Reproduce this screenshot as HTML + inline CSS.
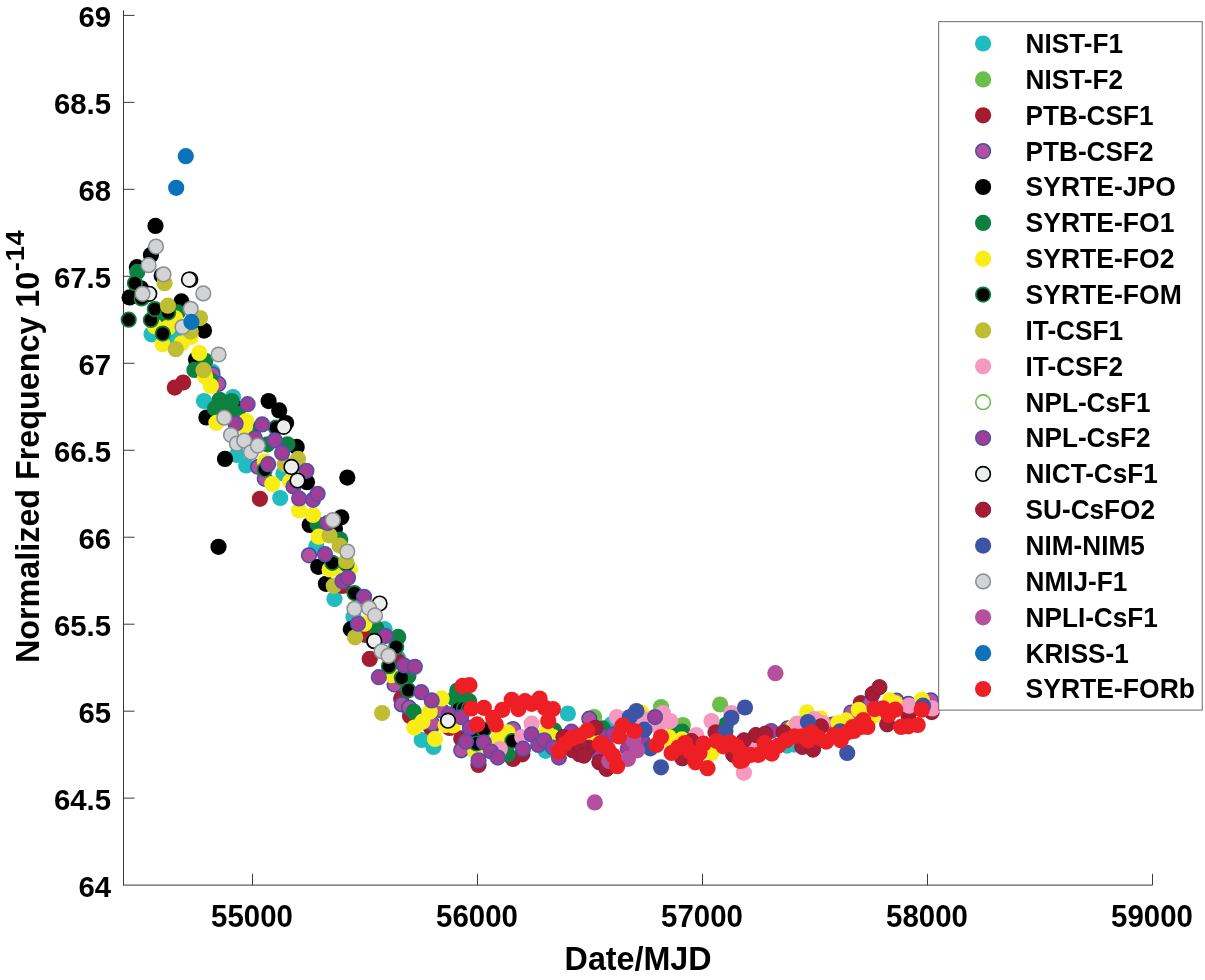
<!DOCTYPE html>
<html><head><meta charset="utf-8"><title>Normalized Frequency vs Date/MJD</title>
<style>html,body{margin:0;padding:0;background:#fff;}svg{display:block;}text{font-family:"Liberation Sans",sans-serif;font-weight:bold;fill:#000;}</style></head><body>
<svg width="1205" height="980" viewBox="0 0 1205 980">
<rect width="1205" height="980" fill="#fff"/>
<g stroke="#3a3a3a" stroke-width="1" fill="none" shape-rendering="auto">
<line x1="123.5" y1="10.4" x2="123.5" y2="885.1"/>
<line x1="123.0" y1="885.1" x2="1152.5" y2="885.1"/>
<line x1="123.5" y1="15.40" x2="134.5" y2="15.40"/>
<line x1="123.5" y1="102.37" x2="134.5" y2="102.37"/>
<line x1="123.5" y1="189.34" x2="134.5" y2="189.34"/>
<line x1="123.5" y1="276.31" x2="134.5" y2="276.31"/>
<line x1="123.5" y1="363.28" x2="134.5" y2="363.28"/>
<line x1="123.5" y1="450.25" x2="134.5" y2="450.25"/>
<line x1="123.5" y1="537.22" x2="134.5" y2="537.22"/>
<line x1="123.5" y1="624.19" x2="134.5" y2="624.19"/>
<line x1="123.5" y1="711.16" x2="134.5" y2="711.16"/>
<line x1="123.5" y1="798.13" x2="134.5" y2="798.13"/>
<line x1="252.5" y1="885.1" x2="252.5" y2="873.9"/>
<line x1="477.5" y1="885.1" x2="477.5" y2="873.9"/>
<line x1="702.5" y1="885.1" x2="702.5" y2="873.9"/>
<line x1="927.5" y1="885.1" x2="927.5" y2="873.9"/>
<line x1="1152.5" y1="885.1" x2="1152.5" y2="873.9"/>
</g>
<text transform="translate(111.0,27.1) scale(0.965,1)" font-size="30.4" text-anchor="end">69</text>
<text transform="translate(111.0,114.1) scale(0.965,1)" font-size="30.4" text-anchor="end">68.5</text>
<text transform="translate(111.0,201.0) scale(0.965,1)" font-size="30.4" text-anchor="end">68</text>
<text transform="translate(111.0,288.0) scale(0.965,1)" font-size="30.4" text-anchor="end">67.5</text>
<text transform="translate(111.0,375.0) scale(0.965,1)" font-size="30.4" text-anchor="end">67</text>
<text transform="translate(111.0,461.9) scale(0.965,1)" font-size="30.4" text-anchor="end">66.5</text>
<text transform="translate(111.0,548.9) scale(0.965,1)" font-size="30.4" text-anchor="end">66</text>
<text transform="translate(111.0,635.9) scale(0.965,1)" font-size="30.4" text-anchor="end">65.5</text>
<text transform="translate(111.0,722.9) scale(0.965,1)" font-size="30.4" text-anchor="end">65</text>
<text transform="translate(111.0,809.8) scale(0.965,1)" font-size="30.4" text-anchor="end">64.5</text>
<text transform="translate(111.0,896.8) scale(0.965,1)" font-size="30.4" text-anchor="end">64</text>
<text transform="translate(252,926.9) scale(0.955,1)" font-size="30.8" text-anchor="middle">55000</text>
<text transform="translate(477,926.9) scale(0.955,1)" font-size="30.8" text-anchor="middle">56000</text>
<text transform="translate(702,926.9) scale(0.955,1)" font-size="30.8" text-anchor="middle">57000</text>
<text transform="translate(927,926.9) scale(0.955,1)" font-size="30.8" text-anchor="middle">58000</text>
<text transform="translate(1152,926.9) scale(0.955,1)" font-size="30.8" text-anchor="middle">59000</text>
<text transform="translate(638.1,969.8) scale(0.978,1)" font-size="33" text-anchor="middle">Date/MJD</text>
<text transform="translate(39.2,663) rotate(-90) scale(0.979,1)" font-size="33">Normalized Frequency 10</text>
<text transform="translate(23.8,271.2) rotate(-90) scale(1.04,1)" font-size="26.3" letter-spacing="0.7">-14</text>
<g>
<circle cx="151.5" cy="334.3" r="8.1" fill="#20bcc1"/>
<circle cx="174.8" cy="338.3" r="8.1" fill="#20bcc1"/>
<circle cx="212.4" cy="371.9" r="8.1" fill="#20bcc1"/>
<circle cx="204.0" cy="401.1" r="8.1" fill="#20bcc1"/>
<circle cx="233.0" cy="397.1" r="8.1" fill="#20bcc1"/>
<circle cx="236.9" cy="454.9" r="8.1" fill="#20bcc1"/>
<circle cx="246.2" cy="465.5" r="8.1" fill="#20bcc1"/>
<circle cx="283.4" cy="473.5" r="8.1" fill="#20bcc1"/>
<circle cx="280.2" cy="498.0" r="8.1" fill="#20bcc1"/>
<circle cx="316.3" cy="546.2" r="8.1" fill="#20bcc1"/>
<circle cx="334.5" cy="599.1" r="8.1" fill="#20bcc1"/>
<circle cx="353.5" cy="617.0" r="8.1" fill="#20bcc1"/>
<circle cx="384.6" cy="629.2" r="8.1" fill="#20bcc1"/>
<circle cx="398.2" cy="658.2" r="8.1" fill="#20bcc1"/>
<circle cx="421.7" cy="740.0" r="8.1" fill="#20bcc1"/>
<circle cx="433.4" cy="746.9" r="8.1" fill="#20bcc1"/>
<circle cx="567.9" cy="713.5" r="8.1" fill="#20bcc1"/>
<circle cx="545.6" cy="750.8" r="8.1" fill="#20bcc1"/>
<circle cx="611.2" cy="724.4" r="8.1" fill="#20bcc1"/>
<circle cx="787.1" cy="745.6" r="8.1" fill="#20bcc1"/>
<circle cx="794.4" cy="744.6" r="8.1" fill="#20bcc1"/>
<circle cx="594.1" cy="717.1" r="8.1" fill="#6abf4b"/>
<circle cx="661.0" cy="707.1" r="8.1" fill="#6abf4b"/>
<circle cx="682.9" cy="725.1" r="8.1" fill="#6abf4b"/>
<circle cx="720.1" cy="704.5" r="8.1" fill="#6abf4b"/>
<circle cx="183.2" cy="382.5" r="8.1" fill="#a51c30"/>
<circle cx="174.8" cy="387.6" r="8.1" fill="#a51c30"/>
<circle cx="259.9" cy="498.8" r="8.1" fill="#a51c30"/>
<circle cx="342.5" cy="585.9" r="8.1" fill="#a51c30"/>
<circle cx="365.7" cy="635.0" r="8.1" fill="#a51c30"/>
<circle cx="369.7" cy="658.9" r="8.1" fill="#a51c30"/>
<circle cx="397.6" cy="660.8" r="8.1" fill="#a51c30"/>
<circle cx="401.1" cy="698.4" r="8.1" fill="#a51c30"/>
<circle cx="410.0" cy="716.0" r="8.1" fill="#a51c30"/>
<circle cx="431.0" cy="727.6" r="8.1" fill="#a51c30"/>
<circle cx="449.6" cy="727.9" r="8.1" fill="#a51c30"/>
<circle cx="461.2" cy="738.4" r="8.1" fill="#a51c30"/>
<circle cx="478.5" cy="764.9" r="8.1" fill="#a51c30"/>
<circle cx="513.0" cy="758.9" r="8.1" fill="#a51c30"/>
<circle cx="522.3" cy="754.3" r="8.1" fill="#a51c30"/>
<circle cx="860.8" cy="703.1" r="8.1" fill="#a51c30"/>
<circle cx="908.4" cy="715.0" r="8.1" fill="#a51c30"/>
<circle cx="931.7" cy="712.1" r="8.1" fill="#a51c30"/>
<circle cx="212.5" cy="374.4" r="7.35" fill="#b5509f" stroke="#3f4fa6" stroke-width="1.5"/>
<circle cx="218.4" cy="383.9" r="7.35" fill="#b5509f" stroke="#3f4fa6" stroke-width="1.5"/>
<circle cx="258.2" cy="466.9" r="7.35" fill="#b5509f" stroke="#3f4fa6" stroke-width="1.5"/>
<circle cx="264.8" cy="478.8" r="7.35" fill="#b5509f" stroke="#3f4fa6" stroke-width="1.5"/>
<circle cx="309.0" cy="555.3" r="7.35" fill="#b5509f" stroke="#3f4fa6" stroke-width="1.5"/>
<circle cx="394.5" cy="684.5" r="7.35" fill="#b5509f" stroke="#3f4fa6" stroke-width="1.5"/>
<circle cx="401.8" cy="704.4" r="7.35" fill="#b5509f" stroke="#3f4fa6" stroke-width="1.5"/>
<circle cx="409.1" cy="707.7" r="7.35" fill="#b5509f" stroke="#3f4fa6" stroke-width="1.5"/>
<circle cx="441.6" cy="710.4" r="7.35" fill="#b5509f" stroke="#3f4fa6" stroke-width="1.5"/>
<circle cx="432.3" cy="723.7" r="7.35" fill="#b5509f" stroke="#3f4fa6" stroke-width="1.5"/>
<circle cx="461.2" cy="750.3" r="7.35" fill="#b5509f" stroke="#3f4fa6" stroke-width="1.5"/>
<circle cx="513.0" cy="729.1" r="7.35" fill="#b5509f" stroke="#3f4fa6" stroke-width="1.5"/>
<circle cx="589.3" cy="718.7" r="7.35" fill="#b5509f" stroke="#3f4fa6" stroke-width="1.5"/>
<circle cx="787.7" cy="728.4" r="7.35" fill="#b5509f" stroke="#3f4fa6" stroke-width="1.5"/>
<circle cx="832.2" cy="724.5" r="7.35" fill="#b5509f" stroke="#3f4fa6" stroke-width="1.5"/>
<circle cx="851.2" cy="712.5" r="7.35" fill="#b5509f" stroke="#3f4fa6" stroke-width="1.5"/>
<circle cx="870.7" cy="702.1" r="7.35" fill="#b5509f" stroke="#3f4fa6" stroke-width="1.5"/>
<circle cx="896.5" cy="700.7" r="7.35" fill="#b5509f" stroke="#3f4fa6" stroke-width="1.5"/>
<circle cx="908.4" cy="703.8" r="7.35" fill="#b5509f" stroke="#3f4fa6" stroke-width="1.5"/>
<circle cx="931.0" cy="700.4" r="7.35" fill="#b5509f" stroke="#3f4fa6" stroke-width="1.5"/>
<circle cx="155.5" cy="225.9" r="8.1" fill="#000000"/>
<circle cx="150.9" cy="254.9" r="8.1" fill="#000000"/>
<circle cx="136.9" cy="267.2" r="8.1" fill="#000000"/>
<circle cx="161.7" cy="275.6" r="8.1" fill="#000000"/>
<circle cx="140.9" cy="288.3" r="8.1" fill="#000000"/>
<circle cx="129.6" cy="297.4" r="8.1" fill="#000000"/>
<circle cx="181.4" cy="301.4" r="8.1" fill="#000000"/>
<circle cx="204.0" cy="330.6" r="8.1" fill="#000000"/>
<circle cx="196.0" cy="359.5" r="8.1" fill="#000000"/>
<circle cx="268.6" cy="401.1" r="8.1" fill="#000000"/>
<circle cx="279.2" cy="410.4" r="8.1" fill="#000000"/>
<circle cx="286.1" cy="423.0" r="8.1" fill="#000000"/>
<circle cx="206.4" cy="417.5" r="8.1" fill="#000000"/>
<circle cx="252.9" cy="430.3" r="8.1" fill="#000000"/>
<circle cx="236.9" cy="408.7" r="8.1" fill="#000000"/>
<circle cx="296.7" cy="446.9" r="8.1" fill="#000000"/>
<circle cx="225.0" cy="458.9" r="8.1" fill="#000000"/>
<circle cx="307.0" cy="482.2" r="8.1" fill="#000000"/>
<circle cx="347.3" cy="477.6" r="8.1" fill="#000000"/>
<circle cx="341.3" cy="517.3" r="8.1" fill="#000000"/>
<circle cx="309.7" cy="525.0" r="8.1" fill="#000000"/>
<circle cx="334.9" cy="529.0" r="8.1" fill="#000000"/>
<circle cx="318.3" cy="566.8" r="8.1" fill="#000000"/>
<circle cx="325.9" cy="583.8" r="8.1" fill="#000000"/>
<circle cx="350.8" cy="629.2" r="8.1" fill="#000000"/>
<circle cx="474.8" cy="737.0" r="8.1" fill="#000000"/>
<circle cx="218.5" cy="546.8" r="8.1" fill="#000000"/>
<circle cx="137.3" cy="271.9" r="8.1" fill="#0c8140"/>
<circle cx="177.4" cy="312.4" r="8.1" fill="#0c8140"/>
<circle cx="164.1" cy="319.7" r="8.1" fill="#0c8140"/>
<circle cx="205.3" cy="360.8" r="8.1" fill="#0c8140"/>
<circle cx="194.4" cy="369.9" r="8.1" fill="#0c8140"/>
<circle cx="210.4" cy="380.1" r="8.1" fill="#0c8140"/>
<circle cx="219.7" cy="399.8" r="8.1" fill="#0c8140"/>
<circle cx="231.6" cy="401.1" r="8.1" fill="#0c8140"/>
<circle cx="215.0" cy="408.4" r="8.1" fill="#0c8140"/>
<circle cx="225.0" cy="405.8" r="8.1" fill="#0c8140"/>
<circle cx="237.6" cy="413.7" r="8.1" fill="#0c8140"/>
<circle cx="247.6" cy="429.7" r="8.1" fill="#0c8140"/>
<circle cx="267.5" cy="444.3" r="8.1" fill="#0c8140"/>
<circle cx="287.4" cy="444.3" r="8.1" fill="#0c8140"/>
<circle cx="317.6" cy="524.3" r="8.1" fill="#0c8140"/>
<circle cx="340.2" cy="539.6" r="8.1" fill="#0c8140"/>
<circle cx="376.3" cy="628.3" r="8.1" fill="#0c8140"/>
<circle cx="398.2" cy="636.9" r="8.1" fill="#0c8140"/>
<circle cx="408.4" cy="676.1" r="8.1" fill="#0c8140"/>
<circle cx="413.7" cy="711.7" r="8.1" fill="#0c8140"/>
<circle cx="457.3" cy="690.5" r="8.1" fill="#0c8140"/>
<circle cx="454.6" cy="698.5" r="8.1" fill="#0c8140"/>
<circle cx="463.9" cy="695.9" r="8.1" fill="#0c8140"/>
<circle cx="469.2" cy="701.2" r="8.1" fill="#0c8140"/>
<circle cx="507.7" cy="754.3" r="8.1" fill="#0c8140"/>
<circle cx="554.2" cy="730.4" r="8.1" fill="#0c8140"/>
<circle cx="602.8" cy="728.4" r="8.1" fill="#0c8140"/>
<circle cx="682.3" cy="731.7" r="8.1" fill="#0c8140"/>
<circle cx="674.3" cy="732.4" r="8.1" fill="#0c8140"/>
<circle cx="725.8" cy="724.8" r="8.1" fill="#0c8140"/>
<circle cx="175.4" cy="318.4" r="8.1" fill="#f8ed17"/>
<circle cx="154.8" cy="326.3" r="8.1" fill="#f8ed17"/>
<circle cx="168.1" cy="327.6" r="8.1" fill="#f8ed17"/>
<circle cx="190.7" cy="336.9" r="8.1" fill="#f8ed17"/>
<circle cx="181.4" cy="343.6" r="8.1" fill="#f8ed17"/>
<circle cx="162.5" cy="344.2" r="8.1" fill="#f8ed17"/>
<circle cx="199.3" cy="352.9" r="8.1" fill="#f8ed17"/>
<circle cx="205.1" cy="376.6" r="8.1" fill="#f8ed17"/>
<circle cx="210.8" cy="385.9" r="8.1" fill="#f8ed17"/>
<circle cx="216.4" cy="422.8" r="8.1" fill="#f8ed17"/>
<circle cx="246.2" cy="421.0" r="8.1" fill="#f8ed17"/>
<circle cx="244.9" cy="427.0" r="8.1" fill="#f8ed17"/>
<circle cx="264.8" cy="461.6" r="8.1" fill="#f8ed17"/>
<circle cx="272.3" cy="483.9" r="8.1" fill="#f8ed17"/>
<circle cx="290.0" cy="481.4" r="8.1" fill="#f8ed17"/>
<circle cx="299.1" cy="510.4" r="8.1" fill="#f8ed17"/>
<circle cx="313.0" cy="515.0" r="8.1" fill="#f8ed17"/>
<circle cx="318.7" cy="536.7" r="8.1" fill="#f8ed17"/>
<circle cx="329.6" cy="569.5" r="8.1" fill="#f8ed17"/>
<circle cx="349.8" cy="569.2" r="8.1" fill="#f8ed17"/>
<circle cx="339.9" cy="570.5" r="8.1" fill="#f8ed17"/>
<circle cx="364.4" cy="623.7" r="8.1" fill="#f8ed17"/>
<circle cx="391.2" cy="675.2" r="8.1" fill="#f8ed17"/>
<circle cx="441.6" cy="698.4" r="8.1" fill="#f8ed17"/>
<circle cx="429.7" cy="711.7" r="8.1" fill="#f8ed17"/>
<circle cx="422.4" cy="721.7" r="8.1" fill="#f8ed17"/>
<circle cx="414.4" cy="727.6" r="8.1" fill="#f8ed17"/>
<circle cx="445.6" cy="725.0" r="8.1" fill="#f8ed17"/>
<circle cx="452.9" cy="725.5" r="8.1" fill="#f8ed17"/>
<circle cx="435.0" cy="738.9" r="8.1" fill="#f8ed17"/>
<circle cx="498.4" cy="738.4" r="8.1" fill="#f8ed17"/>
<circle cx="507.7" cy="732.4" r="8.1" fill="#f8ed17"/>
<circle cx="475.2" cy="751.6" r="8.1" fill="#f8ed17"/>
<circle cx="546.2" cy="731.7" r="8.1" fill="#f8ed17"/>
<circle cx="552.9" cy="737.0" r="8.1" fill="#f8ed17"/>
<circle cx="595.4" cy="739.7" r="8.1" fill="#f8ed17"/>
<circle cx="641.4" cy="712.5" r="8.1" fill="#f8ed17"/>
<circle cx="668.7" cy="737.0" r="8.1" fill="#f8ed17"/>
<circle cx="682.0" cy="739.4" r="8.1" fill="#f8ed17"/>
<circle cx="671.6" cy="741.0" r="8.1" fill="#f8ed17"/>
<circle cx="711.5" cy="753.0" r="8.1" fill="#f8ed17"/>
<circle cx="792.8" cy="727.7" r="8.1" fill="#f8ed17"/>
<circle cx="807.0" cy="712.4" r="8.1" fill="#f8ed17"/>
<circle cx="820.9" cy="718.4" r="8.1" fill="#f8ed17"/>
<circle cx="838.2" cy="723.0" r="8.1" fill="#f8ed17"/>
<circle cx="846.2" cy="720.4" r="8.1" fill="#f8ed17"/>
<circle cx="858.8" cy="709.8" r="8.1" fill="#f8ed17"/>
<circle cx="872.7" cy="716.4" r="8.1" fill="#f8ed17"/>
<circle cx="889.8" cy="700.4" r="8.1" fill="#f8ed17"/>
<circle cx="895.2" cy="703.0" r="8.1" fill="#f8ed17"/>
<circle cx="921.7" cy="699.7" r="8.1" fill="#f8ed17"/>
<circle cx="134.9" cy="283.2" r="7.25" fill="#000000" stroke="#0c8140" stroke-width="1.7"/>
<circle cx="141.6" cy="298.4" r="7.25" fill="#000000" stroke="#0c8140" stroke-width="1.7"/>
<circle cx="150.9" cy="319.9" r="7.25" fill="#000000" stroke="#0c8140" stroke-width="1.7"/>
<circle cx="154.8" cy="309.1" r="7.25" fill="#000000" stroke="#0c8140" stroke-width="1.7"/>
<circle cx="168.1" cy="312.4" r="7.25" fill="#000000" stroke="#0c8140" stroke-width="1.7"/>
<circle cx="128.7" cy="319.7" r="7.25" fill="#000000" stroke="#0c8140" stroke-width="1.7"/>
<circle cx="162.8" cy="333.6" r="7.25" fill="#000000" stroke="#0c8140" stroke-width="1.7"/>
<circle cx="275.9" cy="427.7" r="7.25" fill="#000000" stroke="#0c8140" stroke-width="1.7"/>
<circle cx="264.8" cy="469.5" r="7.25" fill="#000000" stroke="#0c8140" stroke-width="1.7"/>
<circle cx="332.3" cy="562.8" r="7.25" fill="#000000" stroke="#0c8140" stroke-width="1.7"/>
<circle cx="346.4" cy="563.9" r="7.25" fill="#000000" stroke="#0c8140" stroke-width="1.7"/>
<circle cx="354.4" cy="593.1" r="7.25" fill="#000000" stroke="#0c8140" stroke-width="1.7"/>
<circle cx="373.9" cy="641.2" r="7.25" fill="#000000" stroke="#0c8140" stroke-width="1.7"/>
<circle cx="396.2" cy="646.9" r="7.25" fill="#000000" stroke="#0c8140" stroke-width="1.7"/>
<circle cx="388.9" cy="666.2" r="7.25" fill="#000000" stroke="#0c8140" stroke-width="1.7"/>
<circle cx="401.8" cy="677.8" r="7.25" fill="#000000" stroke="#0c8140" stroke-width="1.7"/>
<circle cx="408.4" cy="690.2" r="7.25" fill="#000000" stroke="#0c8140" stroke-width="1.7"/>
<circle cx="458.7" cy="709.0" r="7.25" fill="#000000" stroke="#0c8140" stroke-width="1.7"/>
<circle cx="463.9" cy="708.6" r="7.25" fill="#000000" stroke="#0c8140" stroke-width="1.7"/>
<circle cx="469.0" cy="708.2" r="7.25" fill="#000000" stroke="#0c8140" stroke-width="1.7"/>
<circle cx="483.8" cy="729.7" r="7.25" fill="#000000" stroke="#0c8140" stroke-width="1.7"/>
<circle cx="476.5" cy="743.5" r="7.25" fill="#000000" stroke="#0c8140" stroke-width="1.7"/>
<circle cx="512.4" cy="741.0" r="7.25" fill="#000000" stroke="#0c8140" stroke-width="1.7"/>
<circle cx="164.5" cy="283.2" r="8.1" fill="#bfbd31"/>
<circle cx="167.9" cy="305.7" r="8.1" fill="#bfbd31"/>
<circle cx="200.0" cy="318.1" r="8.1" fill="#bfbd31"/>
<circle cx="190.7" cy="331.6" r="8.1" fill="#bfbd31"/>
<circle cx="175.8" cy="349.2" r="8.1" fill="#bfbd31"/>
<circle cx="203.5" cy="370.2" r="8.1" fill="#bfbd31"/>
<circle cx="284.8" cy="464.2" r="8.1" fill="#bfbd31"/>
<circle cx="298.0" cy="458.9" r="8.1" fill="#bfbd31"/>
<circle cx="329.6" cy="535.4" r="8.1" fill="#bfbd31"/>
<circle cx="339.6" cy="545.6" r="8.1" fill="#bfbd31"/>
<circle cx="346.2" cy="561.5" r="8.1" fill="#bfbd31"/>
<circle cx="333.8" cy="585.8" r="8.1" fill="#bfbd31"/>
<circle cx="355.1" cy="637.3" r="8.1" fill="#bfbd31"/>
<circle cx="382.1" cy="713.0" r="8.1" fill="#bfbd31"/>
<circle cx="499.8" cy="749.0" r="8.1" fill="#f599c1"/>
<circle cx="531.6" cy="723.7" r="8.1" fill="#f599c1"/>
<circle cx="522.3" cy="737.0" r="8.1" fill="#f599c1"/>
<circle cx="616.9" cy="717.1" r="8.1" fill="#f599c1"/>
<circle cx="642.4" cy="718.4" r="8.1" fill="#f599c1"/>
<circle cx="663.0" cy="713.1" r="8.1" fill="#f599c1"/>
<circle cx="670.3" cy="721.1" r="8.1" fill="#f599c1"/>
<circle cx="658.4" cy="726.4" r="8.1" fill="#f599c1"/>
<circle cx="696.2" cy="735.0" r="8.1" fill="#f599c1"/>
<circle cx="711.5" cy="721.1" r="8.1" fill="#f599c1"/>
<circle cx="731.4" cy="713.1" r="8.1" fill="#f599c1"/>
<circle cx="753.2" cy="745.0" r="8.1" fill="#f599c1"/>
<circle cx="797.0" cy="723.7" r="8.1" fill="#f599c1"/>
<circle cx="814.3" cy="719.1" r="8.1" fill="#f599c1"/>
<circle cx="822.3" cy="723.0" r="8.1" fill="#f599c1"/>
<circle cx="743.9" cy="772.8" r="8.1" fill="#f599c1"/>
<circle cx="909.1" cy="705.7" r="8.1" fill="#f599c1"/>
<circle cx="932.3" cy="708.4" r="8.1" fill="#f599c1"/>
<circle cx="247.6" cy="404.2" r="7.30" fill="#a13d97" stroke="#5551a8" stroke-width="1.6"/>
<circle cx="235.6" cy="423.7" r="7.30" fill="#a13d97" stroke="#5551a8" stroke-width="1.6"/>
<circle cx="262.2" cy="424.4" r="7.30" fill="#a13d97" stroke="#5551a8" stroke-width="1.6"/>
<circle cx="254.9" cy="438.3" r="7.30" fill="#a13d97" stroke="#5551a8" stroke-width="1.6"/>
<circle cx="274.8" cy="440.3" r="7.30" fill="#a13d97" stroke="#5551a8" stroke-width="1.6"/>
<circle cx="282.1" cy="452.9" r="7.30" fill="#a13d97" stroke="#5551a8" stroke-width="1.6"/>
<circle cx="268.2" cy="464.2" r="7.30" fill="#a13d97" stroke="#5551a8" stroke-width="1.6"/>
<circle cx="306.4" cy="470.8" r="7.30" fill="#a13d97" stroke="#5551a8" stroke-width="1.6"/>
<circle cx="293.5" cy="486.5" r="7.30" fill="#a13d97" stroke="#5551a8" stroke-width="1.6"/>
<circle cx="299.1" cy="498.4" r="7.30" fill="#a13d97" stroke="#5551a8" stroke-width="1.6"/>
<circle cx="313.0" cy="499.8" r="7.30" fill="#a13d97" stroke="#5551a8" stroke-width="1.6"/>
<circle cx="317.6" cy="493.8" r="7.30" fill="#a13d97" stroke="#5551a8" stroke-width="1.6"/>
<circle cx="327.6" cy="523.0" r="7.30" fill="#a13d97" stroke="#5551a8" stroke-width="1.6"/>
<circle cx="325.0" cy="554.2" r="7.30" fill="#a13d97" stroke="#5551a8" stroke-width="1.6"/>
<circle cx="342.5" cy="581.2" r="7.30" fill="#a13d97" stroke="#5551a8" stroke-width="1.6"/>
<circle cx="348.0" cy="577.8" r="7.30" fill="#a13d97" stroke="#5551a8" stroke-width="1.6"/>
<circle cx="364.1" cy="596.8" r="7.30" fill="#a13d97" stroke="#5551a8" stroke-width="1.6"/>
<circle cx="358.0" cy="623.7" r="7.30" fill="#a13d97" stroke="#5551a8" stroke-width="1.6"/>
<circle cx="385.4" cy="635.9" r="7.30" fill="#a13d97" stroke="#5551a8" stroke-width="1.6"/>
<circle cx="404.2" cy="665.5" r="7.30" fill="#a13d97" stroke="#5551a8" stroke-width="1.6"/>
<circle cx="414.8" cy="666.8" r="7.30" fill="#a13d97" stroke="#5551a8" stroke-width="1.6"/>
<circle cx="378.8" cy="677.2" r="7.30" fill="#a13d97" stroke="#5551a8" stroke-width="1.6"/>
<circle cx="421.3" cy="692.2" r="7.30" fill="#a13d97" stroke="#5551a8" stroke-width="1.6"/>
<circle cx="431.7" cy="700.4" r="7.30" fill="#a13d97" stroke="#5551a8" stroke-width="1.6"/>
<circle cx="448.9" cy="714.4" r="7.30" fill="#a13d97" stroke="#5551a8" stroke-width="1.6"/>
<circle cx="461.2" cy="717.1" r="7.30" fill="#a13d97" stroke="#5551a8" stroke-width="1.6"/>
<circle cx="469.9" cy="727.7" r="7.30" fill="#a13d97" stroke="#5551a8" stroke-width="1.6"/>
<circle cx="465.9" cy="741.7" r="7.30" fill="#a13d97" stroke="#5551a8" stroke-width="1.6"/>
<circle cx="483.8" cy="742.3" r="7.30" fill="#a13d97" stroke="#5551a8" stroke-width="1.6"/>
<circle cx="491.1" cy="751.6" r="7.30" fill="#a13d97" stroke="#5551a8" stroke-width="1.6"/>
<circle cx="497.8" cy="757.6" r="7.30" fill="#a13d97" stroke="#5551a8" stroke-width="1.6"/>
<circle cx="478.5" cy="760.3" r="7.30" fill="#a13d97" stroke="#5551a8" stroke-width="1.6"/>
<circle cx="531.6" cy="734.4" r="7.30" fill="#a13d97" stroke="#5551a8" stroke-width="1.6"/>
<circle cx="523.0" cy="748.7" r="7.30" fill="#a13d97" stroke="#5551a8" stroke-width="1.6"/>
<circle cx="538.3" cy="745.0" r="7.30" fill="#a13d97" stroke="#5551a8" stroke-width="1.6"/>
<circle cx="544.2" cy="740.3" r="7.30" fill="#a13d97" stroke="#5551a8" stroke-width="1.6"/>
<circle cx="552.9" cy="747.6" r="7.30" fill="#a13d97" stroke="#5551a8" stroke-width="1.6"/>
<circle cx="558.9" cy="757.6" r="7.30" fill="#a13d97" stroke="#5551a8" stroke-width="1.6"/>
<circle cx="571.5" cy="731.7" r="7.30" fill="#a13d97" stroke="#5551a8" stroke-width="1.6"/>
<circle cx="599.4" cy="753.0" r="7.30" fill="#a13d97" stroke="#5551a8" stroke-width="1.6"/>
<circle cx="655.0" cy="717.1" r="7.30" fill="#a13d97" stroke="#5551a8" stroke-width="1.6"/>
<circle cx="606.6" cy="737.0" r="7.30" fill="#a13d97" stroke="#5551a8" stroke-width="1.6"/>
<circle cx="613.2" cy="734.4" r="7.30" fill="#a13d97" stroke="#5551a8" stroke-width="1.6"/>
<circle cx="642.4" cy="741.0" r="7.30" fill="#a13d97" stroke="#5551a8" stroke-width="1.6"/>
<circle cx="627.8" cy="749.0" r="7.30" fill="#a13d97" stroke="#5551a8" stroke-width="1.6"/>
<circle cx="599.9" cy="755.6" r="7.30" fill="#a13d97" stroke="#5551a8" stroke-width="1.6"/>
<circle cx="771.1" cy="731.0" r="7.30" fill="#a13d97" stroke="#5551a8" stroke-width="1.6"/>
<circle cx="190.3" cy="279.6" r="7.30" fill="#eceeed" stroke="#000000" stroke-width="1.6"/>
<circle cx="189.0" cy="279.6" r="7.30" fill="#eceeed" stroke="#000000" stroke-width="1.6"/>
<circle cx="149.3" cy="293.8" r="7.30" fill="#eceeed" stroke="#000000" stroke-width="1.6"/>
<circle cx="283.7" cy="426.8" r="7.30" fill="#eceeed" stroke="#000000" stroke-width="1.6"/>
<circle cx="291.4" cy="466.9" r="7.30" fill="#eceeed" stroke="#000000" stroke-width="1.6"/>
<circle cx="297.5" cy="480.5" r="7.30" fill="#eceeed" stroke="#000000" stroke-width="1.6"/>
<circle cx="379.6" cy="603.5" r="7.30" fill="#eceeed" stroke="#000000" stroke-width="1.6"/>
<circle cx="374.3" cy="640.9" r="7.30" fill="#eceeed" stroke="#000000" stroke-width="1.6"/>
<circle cx="448.0" cy="720.7" r="7.30" fill="#eceeed" stroke="#000000" stroke-width="1.6"/>
<circle cx="563.5" cy="737.0" r="7.60" fill="#a51c35" stroke="#8a1b3c" stroke-width="1.0"/>
<circle cx="572.8" cy="750.3" r="7.60" fill="#a51c35" stroke="#8a1b3c" stroke-width="1.0"/>
<circle cx="579.4" cy="754.3" r="7.60" fill="#a51c35" stroke="#8a1b3c" stroke-width="1.0"/>
<circle cx="588.7" cy="747.6" r="7.60" fill="#a51c35" stroke="#8a1b3c" stroke-width="1.0"/>
<circle cx="580.8" cy="745.0" r="7.60" fill="#a51c35" stroke="#8a1b3c" stroke-width="1.0"/>
<circle cx="595.4" cy="727.7" r="7.60" fill="#a51c35" stroke="#8a1b3c" stroke-width="1.0"/>
<circle cx="584.0" cy="755.6" r="7.60" fill="#a51c35" stroke="#8a1b3c" stroke-width="1.0"/>
<circle cx="599.4" cy="762.3" r="7.60" fill="#a51c35" stroke="#8a1b3c" stroke-width="1.0"/>
<circle cx="599.9" cy="762.3" r="7.60" fill="#a51c35" stroke="#8a1b3c" stroke-width="1.0"/>
<circle cx="606.6" cy="768.9" r="7.60" fill="#a51c35" stroke="#8a1b3c" stroke-width="1.0"/>
<circle cx="691.6" cy="741.0" r="7.60" fill="#a51c35" stroke="#8a1b3c" stroke-width="1.0"/>
<circle cx="682.3" cy="758.3" r="7.60" fill="#a51c35" stroke="#8a1b3c" stroke-width="1.0"/>
<circle cx="715.5" cy="732.4" r="7.60" fill="#a51c35" stroke="#8a1b3c" stroke-width="1.0"/>
<circle cx="734.1" cy="753.0" r="7.60" fill="#a51c35" stroke="#8a1b3c" stroke-width="1.0"/>
<circle cx="743.9" cy="740.3" r="7.60" fill="#a51c35" stroke="#8a1b3c" stroke-width="1.0"/>
<circle cx="755.9" cy="735.0" r="7.60" fill="#a51c35" stroke="#8a1b3c" stroke-width="1.0"/>
<circle cx="765.2" cy="733.7" r="7.60" fill="#a51c35" stroke="#8a1b3c" stroke-width="1.0"/>
<circle cx="733.3" cy="754.9" r="7.60" fill="#a51c35" stroke="#8a1b3c" stroke-width="1.0"/>
<circle cx="783.7" cy="732.3" r="7.60" fill="#a51c35" stroke="#8a1b3c" stroke-width="1.0"/>
<circle cx="820.9" cy="726.4" r="7.60" fill="#a51c35" stroke="#8a1b3c" stroke-width="1.0"/>
<circle cx="802.3" cy="746.9" r="7.60" fill="#a51c35" stroke="#8a1b3c" stroke-width="1.0"/>
<circle cx="813.0" cy="749.6" r="7.60" fill="#a51c35" stroke="#8a1b3c" stroke-width="1.0"/>
<circle cx="872.7" cy="693.8" r="7.60" fill="#a51c35" stroke="#8a1b3c" stroke-width="1.0"/>
<circle cx="879.4" cy="687.2" r="7.60" fill="#a51c35" stroke="#8a1b3c" stroke-width="1.0"/>
<circle cx="887.2" cy="724.3" r="7.60" fill="#a51c35" stroke="#8a1b3c" stroke-width="1.0"/>
<circle cx="629.8" cy="717.1" r="8.1" fill="#3b54a5"/>
<circle cx="636.4" cy="711.1" r="8.1" fill="#3b54a5"/>
<circle cx="644.4" cy="729.7" r="8.1" fill="#3b54a5"/>
<circle cx="650.4" cy="748.3" r="8.1" fill="#3b54a5"/>
<circle cx="661.0" cy="767.3" r="8.1" fill="#3b54a5"/>
<circle cx="731.4" cy="717.8" r="8.1" fill="#3b54a5"/>
<circle cx="725.4" cy="731.7" r="8.1" fill="#3b54a5"/>
<circle cx="745.0" cy="707.5" r="8.1" fill="#3b54a5"/>
<circle cx="807.9" cy="722.1" r="8.1" fill="#3b54a5"/>
<circle cx="847.2" cy="752.9" r="8.1" fill="#3b54a5"/>
<circle cx="840.2" cy="731.3" r="8.1" fill="#3b54a5"/>
<circle cx="923.0" cy="705.7" r="8.1" fill="#3b54a5"/>
<circle cx="156.0" cy="246.6" r="7.35" fill="#d1d3d4" stroke="#8b8d90" stroke-width="1.5"/>
<circle cx="148.6" cy="265.2" r="7.35" fill="#d1d3d4" stroke="#8b8d90" stroke-width="1.5"/>
<circle cx="163.5" cy="274.3" r="7.35" fill="#d1d3d4" stroke="#8b8d90" stroke-width="1.5"/>
<circle cx="203.3" cy="293.4" r="7.35" fill="#d1d3d4" stroke="#8b8d90" stroke-width="1.5"/>
<circle cx="142.5" cy="293.8" r="7.35" fill="#d1d3d4" stroke="#8b8d90" stroke-width="1.5"/>
<circle cx="190.7" cy="308.8" r="7.35" fill="#d1d3d4" stroke="#8b8d90" stroke-width="1.5"/>
<circle cx="182.5" cy="327.0" r="7.35" fill="#d1d3d4" stroke="#8b8d90" stroke-width="1.5"/>
<circle cx="218.6" cy="354.5" r="7.35" fill="#d1d3d4" stroke="#8b8d90" stroke-width="1.5"/>
<circle cx="224.3" cy="417.7" r="7.35" fill="#d1d3d4" stroke="#8b8d90" stroke-width="1.5"/>
<circle cx="231.0" cy="435.0" r="7.35" fill="#d1d3d4" stroke="#8b8d90" stroke-width="1.5"/>
<circle cx="236.9" cy="443.6" r="7.35" fill="#d1d3d4" stroke="#8b8d90" stroke-width="1.5"/>
<circle cx="244.2" cy="440.7" r="7.35" fill="#d1d3d4" stroke="#8b8d90" stroke-width="1.5"/>
<circle cx="250.9" cy="452.3" r="7.35" fill="#d1d3d4" stroke="#8b8d90" stroke-width="1.5"/>
<circle cx="257.9" cy="445.6" r="7.35" fill="#d1d3d4" stroke="#8b8d90" stroke-width="1.5"/>
<circle cx="332.9" cy="520.1" r="7.35" fill="#d1d3d4" stroke="#8b8d90" stroke-width="1.5"/>
<circle cx="347.3" cy="551.6" r="7.35" fill="#d1d3d4" stroke="#8b8d90" stroke-width="1.5"/>
<circle cx="354.4" cy="608.8" r="7.35" fill="#d1d3d4" stroke="#8b8d90" stroke-width="1.5"/>
<circle cx="369.0" cy="608.1" r="7.35" fill="#d1d3d4" stroke="#8b8d90" stroke-width="1.5"/>
<circle cx="375.0" cy="615.4" r="7.35" fill="#d1d3d4" stroke="#8b8d90" stroke-width="1.5"/>
<circle cx="381.6" cy="651.3" r="7.35" fill="#d1d3d4" stroke="#8b8d90" stroke-width="1.5"/>
<circle cx="388.5" cy="655.8" r="7.35" fill="#d1d3d4" stroke="#8b8d90" stroke-width="1.5"/>
<circle cx="633.1" cy="739.7" r="8.1" fill="#b5509f"/>
<circle cx="627.8" cy="758.9" r="8.1" fill="#b5509f"/>
<circle cx="637.1" cy="750.3" r="8.1" fill="#b5509f"/>
<circle cx="609.2" cy="760.9" r="8.1" fill="#b5509f"/>
<circle cx="775.4" cy="673.2" r="8.1" fill="#b5509f"/>
<circle cx="594.8" cy="802.4" r="8.1" fill="#b5509f"/>
<circle cx="185.8" cy="156.2" r="8.1" fill="#0e72ba"/>
<circle cx="176.2" cy="187.8" r="8.1" fill="#0e72ba"/>
<circle cx="191.4" cy="321.9" r="8.1" fill="#0e72ba"/>
<circle cx="462.6" cy="685.9" r="8.1" fill="#ed1f24"/>
<circle cx="469.5" cy="685.2" r="8.1" fill="#ed1f24"/>
<circle cx="471.2" cy="708.5" r="8.1" fill="#ed1f24"/>
<circle cx="483.8" cy="707.8" r="8.1" fill="#ed1f24"/>
<circle cx="477.2" cy="724.4" r="8.1" fill="#ed1f24"/>
<circle cx="493.1" cy="717.8" r="8.1" fill="#ed1f24"/>
<circle cx="495.8" cy="724.4" r="8.1" fill="#ed1f24"/>
<circle cx="502.4" cy="709.8" r="8.1" fill="#ed1f24"/>
<circle cx="511.7" cy="699.8" r="8.1" fill="#ed1f24"/>
<circle cx="518.4" cy="709.1" r="8.1" fill="#ed1f24"/>
<circle cx="525.0" cy="701.2" r="8.1" fill="#ed1f24"/>
<circle cx="531.6" cy="703.8" r="8.1" fill="#ed1f24"/>
<circle cx="539.6" cy="698.5" r="8.1" fill="#ed1f24"/>
<circle cx="544.9" cy="707.8" r="8.1" fill="#ed1f24"/>
<circle cx="552.9" cy="709.1" r="8.1" fill="#ed1f24"/>
<circle cx="548.2" cy="721.1" r="8.1" fill="#ed1f24"/>
<circle cx="558.9" cy="751.6" r="8.1" fill="#ed1f24"/>
<circle cx="564.8" cy="743.7" r="8.1" fill="#ed1f24"/>
<circle cx="571.5" cy="738.4" r="8.1" fill="#ed1f24"/>
<circle cx="579.4" cy="735.7" r="8.1" fill="#ed1f24"/>
<circle cx="587.4" cy="730.4" r="8.1" fill="#ed1f24"/>
<circle cx="600.0" cy="743.7" r="8.1" fill="#ed1f24"/>
<circle cx="622.5" cy="725.7" r="8.1" fill="#ed1f24"/>
<circle cx="634.4" cy="731.0" r="8.1" fill="#ed1f24"/>
<circle cx="619.2" cy="736.4" r="8.1" fill="#ed1f24"/>
<circle cx="661.0" cy="737.0" r="8.1" fill="#ed1f24"/>
<circle cx="656.4" cy="745.0" r="8.1" fill="#ed1f24"/>
<circle cx="602.6" cy="743.7" r="8.1" fill="#ed1f24"/>
<circle cx="607.9" cy="749.0" r="8.1" fill="#ed1f24"/>
<circle cx="613.2" cy="755.6" r="8.1" fill="#ed1f24"/>
<circle cx="617.2" cy="766.2" r="8.1" fill="#ed1f24"/>
<circle cx="671.6" cy="753.0" r="8.1" fill="#ed1f24"/>
<circle cx="678.3" cy="747.6" r="8.1" fill="#ed1f24"/>
<circle cx="684.9" cy="743.0" r="8.1" fill="#ed1f24"/>
<circle cx="690.2" cy="751.6" r="8.1" fill="#ed1f24"/>
<circle cx="695.5" cy="758.3" r="8.1" fill="#ed1f24"/>
<circle cx="699.5" cy="753.0" r="8.1" fill="#ed1f24"/>
<circle cx="703.5" cy="743.7" r="8.1" fill="#ed1f24"/>
<circle cx="695.5" cy="762.3" r="8.1" fill="#ed1f24"/>
<circle cx="707.5" cy="768.2" r="8.1" fill="#ed1f24"/>
<circle cx="716.8" cy="741.0" r="8.1" fill="#ed1f24"/>
<circle cx="723.4" cy="746.3" r="8.1" fill="#ed1f24"/>
<circle cx="730.1" cy="742.3" r="8.1" fill="#ed1f24"/>
<circle cx="736.7" cy="746.3" r="8.1" fill="#ed1f24"/>
<circle cx="740.0" cy="751.6" r="8.1" fill="#ed1f24"/>
<circle cx="740.0" cy="760.9" r="8.1" fill="#ed1f24"/>
<circle cx="734.6" cy="745.6" r="8.1" fill="#ed1f24"/>
<circle cx="742.6" cy="760.2" r="8.1" fill="#ed1f24"/>
<circle cx="750.5" cy="754.9" r="8.1" fill="#ed1f24"/>
<circle cx="758.5" cy="754.9" r="8.1" fill="#ed1f24"/>
<circle cx="764.5" cy="743.0" r="8.1" fill="#ed1f24"/>
<circle cx="771.8" cy="753.6" r="8.1" fill="#ed1f24"/>
<circle cx="778.4" cy="745.6" r="8.1" fill="#ed1f24"/>
<circle cx="786.4" cy="740.3" r="8.1" fill="#ed1f24"/>
<circle cx="794.4" cy="736.3" r="8.1" fill="#ed1f24"/>
<circle cx="802.3" cy="736.3" r="8.1" fill="#ed1f24"/>
<circle cx="808.3" cy="740.3" r="8.1" fill="#ed1f24"/>
<circle cx="811.6" cy="732.3" r="8.1" fill="#ed1f24"/>
<circle cx="818.3" cy="737.6" r="8.1" fill="#ed1f24"/>
<circle cx="826.2" cy="741.6" r="8.1" fill="#ed1f24"/>
<circle cx="834.2" cy="735.0" r="8.1" fill="#ed1f24"/>
<circle cx="840.8" cy="740.3" r="8.1" fill="#ed1f24"/>
<circle cx="847.5" cy="732.3" r="8.1" fill="#ed1f24"/>
<circle cx="852.8" cy="727.0" r="8.1" fill="#ed1f24"/>
<circle cx="860.8" cy="727.0" r="8.1" fill="#ed1f24"/>
<circle cx="867.4" cy="727.0" r="8.1" fill="#ed1f24"/>
<circle cx="863.4" cy="720.4" r="8.1" fill="#ed1f24"/>
<circle cx="874.7" cy="709.1" r="8.1" fill="#ed1f24"/>
<circle cx="883.2" cy="708.4" r="8.1" fill="#ed1f24"/>
<circle cx="888.5" cy="715.0" r="8.1" fill="#ed1f24"/>
<circle cx="895.2" cy="709.7" r="8.1" fill="#ed1f24"/>
<circle cx="901.1" cy="726.9" r="8.1" fill="#ed1f24"/>
<circle cx="908.4" cy="726.3" r="8.1" fill="#ed1f24"/>
<circle cx="917.7" cy="725.0" r="8.1" fill="#ed1f24"/>
<circle cx="921.7" cy="709.7" r="8.1" fill="#ed1f24"/>
<circle cx="854.0" cy="730.9" r="8.1" fill="#ed1f24"/>
<circle cx="863.3" cy="720.3" r="8.1" fill="#ed1f24"/>
</g>
<rect x="938.7" y="21.7" width="263.5" height="688.4" fill="#fff" stroke="#5a5a5a" stroke-width="0.9"/>
<g fill="#1a1a1a">
<circle cx="983.1" cy="43.5" r="8.1" fill="#20bcc1"/>
<text transform="translate(1025.6,52.9) scale(0.962,1)" font-size="27.2" text-anchor="start" fill="#231f20">NIST-F1</text>
<circle cx="983.1" cy="79.4" r="8.1" fill="#6abf4b"/>
<text transform="translate(1025.6,88.8) scale(0.962,1)" font-size="27.2" text-anchor="start" fill="#231f20">NIST-F2</text>
<circle cx="983.1" cy="115.3" r="8.1" fill="#a51c30"/>
<text transform="translate(1025.6,124.7) scale(0.962,1)" font-size="27.2" text-anchor="start" fill="#231f20">PTB-CSF1</text>
<circle cx="983.1" cy="151.1" r="7.35" fill="#b5509f" stroke="#3f4fa6" stroke-width="1.5"/>
<text transform="translate(1025.6,160.5) scale(0.962,1)" font-size="27.2" text-anchor="start" fill="#231f20">PTB-CSF2</text>
<circle cx="983.1" cy="187.0" r="8.1" fill="#000000"/>
<text transform="translate(1025.6,196.4) scale(0.975,1)" font-size="27.2" text-anchor="start" fill="#231f20">SYRTE-JPO</text>
<circle cx="983.1" cy="222.9" r="8.1" fill="#0c8140"/>
<text transform="translate(1025.6,232.3) scale(0.975,1)" font-size="27.2" text-anchor="start" fill="#231f20">SYRTE-FO1</text>
<circle cx="983.1" cy="258.7" r="8.1" fill="#f8ed17"/>
<text transform="translate(1025.6,268.1) scale(0.975,1)" font-size="27.2" text-anchor="start" fill="#231f20">SYRTE-FO2</text>
<circle cx="983.1" cy="294.6" r="7.25" fill="#000000" stroke="#0c8140" stroke-width="1.7"/>
<text transform="translate(1025.6,304.0) scale(0.975,1)" font-size="27.2" text-anchor="start" fill="#231f20">SYRTE-FOM</text>
<circle cx="983.1" cy="330.4" r="8.1" fill="#bfbd31"/>
<text transform="translate(1025.6,339.8) scale(0.962,1)" font-size="27.2" text-anchor="start" fill="#231f20">IT-CSF1</text>
<circle cx="983.1" cy="366.3" r="8.1" fill="#f599c1"/>
<text transform="translate(1025.6,375.7) scale(0.962,1)" font-size="27.2" text-anchor="start" fill="#231f20">IT-CSF2</text>
<circle cx="983.1" cy="402.2" r="7.30" fill="#ffffff" stroke="#6abf4b" stroke-width="1.6"/>
<text transform="translate(1025.6,411.6) scale(0.962,1)" font-size="27.2" text-anchor="start" fill="#231f20">NPL-CsF1</text>
<circle cx="983.1" cy="438.0" r="7.30" fill="#a13d97" stroke="#5551a8" stroke-width="1.6"/>
<text transform="translate(1025.6,447.4) scale(0.962,1)" font-size="27.2" text-anchor="start" fill="#231f20">NPL-CsF2</text>
<circle cx="983.1" cy="473.9" r="7.30" fill="#eceeed" stroke="#000000" stroke-width="1.6"/>
<text transform="translate(1025.6,483.3) scale(0.962,1)" font-size="27.2" text-anchor="start" fill="#231f20">NICT-CsF1</text>
<circle cx="983.1" cy="509.7" r="7.60" fill="#a51c35" stroke="#8a1b3c" stroke-width="1.0"/>
<text transform="translate(1025.6,519.1) scale(0.962,1)" font-size="27.2" text-anchor="start" fill="#231f20">SU-CsFO2</text>
<circle cx="983.1" cy="545.6" r="8.1" fill="#3b54a5"/>
<text transform="translate(1025.6,555.0) scale(0.962,1)" font-size="27.2" text-anchor="start" fill="#231f20">NIM-NIM5</text>
<circle cx="983.1" cy="581.4" r="7.35" fill="#d1d3d4" stroke="#8b8d90" stroke-width="1.5"/>
<text transform="translate(1025.6,590.8) scale(0.962,1)" font-size="27.2" text-anchor="start" fill="#231f20">NMIJ-F1</text>
<circle cx="983.1" cy="617.3" r="8.1" fill="#b5509f"/>
<text transform="translate(1025.6,626.7) scale(0.962,1)" font-size="27.2" text-anchor="start" fill="#231f20">NPLI-CsF1</text>
<circle cx="983.1" cy="653.2" r="8.1" fill="#0e72ba"/>
<text transform="translate(1025.6,662.6) scale(0.962,1)" font-size="27.2" text-anchor="start" fill="#231f20">KRISS-1</text>
<circle cx="983.1" cy="689.0" r="8.1" fill="#ed1f24"/>
<text transform="translate(1025.6,698.4) scale(0.975,1)" font-size="27.2" text-anchor="start" fill="#231f20">SYRTE-FORb</text>
</g>
</svg></body></html>
